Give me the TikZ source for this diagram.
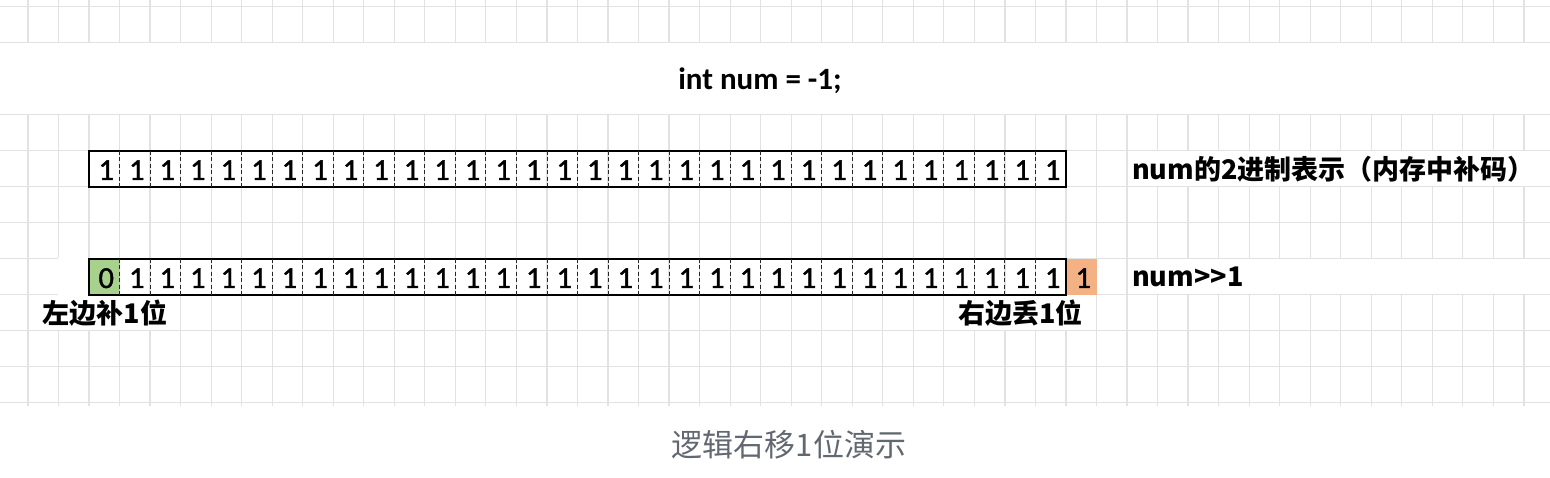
\documentclass[tikz,border=0pt]{standalone}
\usepackage{fontspec}
\setmainfont{Carlito}
\newfontfamily\digitfont{Carlito}[FakeBold=1.2]
\newfontfamily\cjk{Noto Sans CJK SC}
\definecolor{gridc}{RGB}{226,226,226}
\definecolor{greenc}{RGB}{169,209,142}
\definecolor{orangec}{RGB}{244,177,131}
\definecolor{capc}{RGB}{98,104,113}
\newcommand{\dg}[1]{\hspace*{4pt}#1}
\tikzset{
  gridline/.style={draw=gridc, line width=1.2pt},
  bitcell/.style={minimum width=30.53pt, minimum height=36pt, inner sep=0pt, outer sep=0pt,
     text height=22.6pt, text depth=0pt, font=\digitfont\fontsize{30.5}{30.5}\selectfont},
  boxline/.style={draw=black, line width=2pt},
  divline/.style={draw=black!85, line width=0.9pt, dash pattern=on 4pt off 2.5pt},
  lab/.style={inner sep=0pt, font=\cjk\bfseries\fontsize{27}{27}\selectfont},
  titletext/.style={inner sep=0pt, font=\bfseries\fontsize{31}{31}\selectfont},
  captext/.style={inner sep=0pt, text=capc, font=\cjk\fontsize{31}{31}\selectfont}
}
\begin{document}
\begin{tikzpicture}[x=1pt,y=-1pt]
\useasboundingbox (0,0) rectangle (1550,478);
% grid
\foreach \j in {1,...,50} \draw[gridline] ({-2.6+30.53*\j},0) -- ({-2.6+30.53*\j},406);
\foreach \k in {0,1,3,4,5,6,7,8,9,10,11} \draw[gridline] (0,{6.7+36*\k}) -- (1550,{6.7+36*\k});
% hidden grid regions (merged cells / overflowing text)
\fill[white] (0,43.4) rectangle (1550,114.0);
\fill[white] (1128.6,151.4) rectangle (1550,186.0);
\fill[white] (1128.6,259.4) rectangle (1550,294.0);
\fill[white] (57.8,258.0) rectangle (89,295.4);
\fill[white] (28.8,295.4) rectangle (180.0,330.0);
\fill[white] (944.4,295.4) rectangle (1095.8,330.0);
% title
\node[titletext, anchor=base] (title) at (760,90) {int num = -1;};
% top row bits
\foreach \i in {1,...,32}
  \node[bitcell] (t\i) at ({89+30.53*(\i-0.5)},168.7) {\dg{1}};
\draw[boxline] (t1.north west) rectangle (t32.south east);
\foreach \i in {1,...,31} \draw[divline] (t\i.north east) -- (t\i.south east);
% second row bits
\node[bitcell, fill=greenc] (b1) at ({89+30.53*0.5},276.7) {\dg{0}};
\foreach \i in {2,...,32}
  \node[bitcell] (b\i) at ({89+30.53*(\i-0.5)},276.7) {\dg{1}};
\node[bitcell, fill=orangec] (bo) at ({89+30.53*32.5},276.7) {\dg{1}};
\draw[boxline] (b1.north west) rectangle (b32.south east);
\foreach \i in {1,...,31} \draw[divline] (b\i.north east) -- (b\i.south east);
% labels
\node[lab, anchor=base west] (l1) at (1132,180) {num的2进制表示（内存中补码）};
\node[lab, anchor=base west] (l2) at (1132,287) {num>>1};
\node[lab, anchor=base] (l3) at (105,323.5) {左边补1位};
\node[lab, anchor=base] (l4) at (1020.5,323.5) {右边丢1位};
% caption
\node[captext, anchor=base] (cap) at (789,456) {逻辑右移1位演示};
\end{tikzpicture}
\end{document}
